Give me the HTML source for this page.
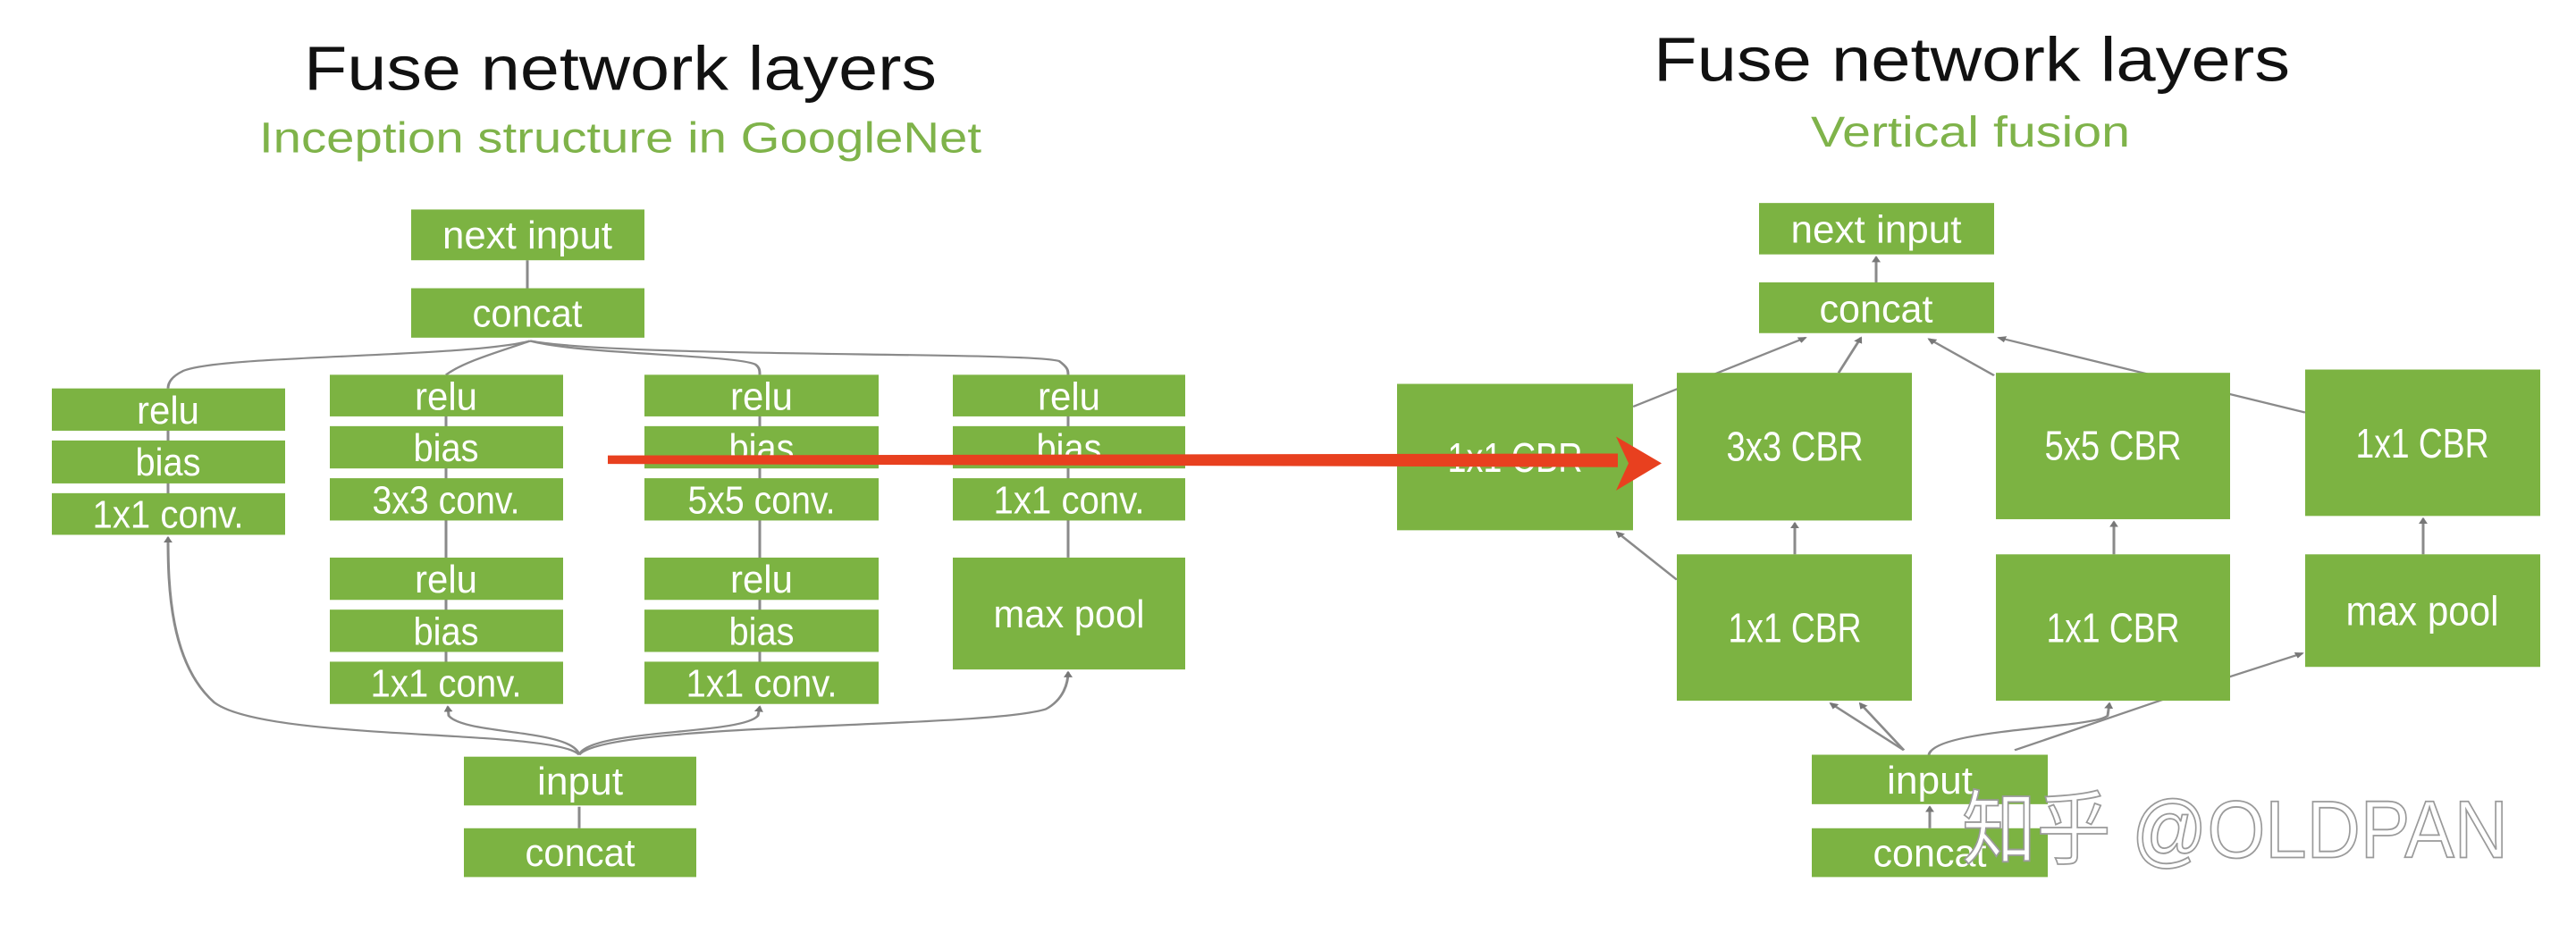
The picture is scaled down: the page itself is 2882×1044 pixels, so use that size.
<!DOCTYPE html>
<html><head><meta charset="utf-8"><style>
html,body{margin:0;padding:0;background:#fff;overflow:hidden;}
svg{display:block;}
.b{fill:#7cb342;}
.t{fill:#fff;font-family:"Liberation Sans",sans-serif;font-size:60px;text-anchor:middle;}
.T{fill:#fff;font-family:"Liberation Sans",sans-serif;font-size:64px;text-anchor:middle;}
.l{stroke:#8a8a8a;stroke-width:3;fill:none;}
</style></head><body>
<svg width="2882" height="1044" viewBox="0 0 2882 1434" preserveAspectRatio="none" xmlns="http://www.w3.org/2000/svg">
<defs><marker id="a" markerWidth="10" markerHeight="10" refX="8" refY="5" orient="auto" markerUnits="userSpaceOnUse"><path d="M0,0 L10,5 L0,10z" fill="#777"/></marker></defs>
<!-- LEFT titles -->
<text x="340" y="138" textLength="708" lengthAdjust="spacingAndGlyphs" font-family="Liberation Sans, sans-serif" font-size="96" fill="#111">Fuse network layers</text>
<text x="290" y="234" textLength="808" lengthAdjust="spacingAndGlyphs" font-family="Liberation Sans, sans-serif" font-size="66" fill="#7fb34a">Inception structure in GoogleNet</text>
<!-- LEFT connectors -->
<g class="l">
<line x1="590" y1="400" x2="590" y2="443"/>
<path d="M593,524 C520,550 250,545 205,570 C190,580 188,590 188,597"/>
<path d="M593,524 C560,540 520,555 499,576"/>
<path d="M593,524 C650,545 820,545 845,560 C850,565 850,570 850,576"/>
<path d="M593,524 C700,550 1150,540 1185,555 C1195,565 1195,570 1195,576"/>
<line x1="188" y1="640" x2="188" y2="822"/>
<line x1="499" y1="620" x2="499" y2="1060"/>
<line x1="850" y1="620" x2="850" y2="1060"/>
<line x1="1195" y1="620" x2="1195" y2="857"/>
<path d="M648,1160 C620,1120 300,1140 240,1080 C190,1020 188,900 188,826" marker-end="url(#a)"/>
<path d="M648,1160 C640,1120 520,1130 502,1100 L501,1086" marker-end="url(#a)"/>
<path d="M648,1160 C660,1120 830,1130 848,1100 L850,1086" marker-end="url(#a)"/>
<path d="M648,1160 C680,1110 1100,1120 1170,1090 C1190,1075 1195,1050 1195,1033" marker-end="url(#a)"/>
<line x1="648" y1="1273" x2="648" y2="1240"/>
</g>
<!-- LEFT boxes -->
<rect class="b" x="460" y="322" width="261" height="78"/><text class="t" x="590" y="382" textLength="190" lengthAdjust="spacingAndGlyphs">next input</text>
<rect class="b" x="460" y="443" width="261" height="76"/><text class="t" x="590" y="502" textLength="123" lengthAdjust="spacingAndGlyphs">concat</text>
<rect class="b" x="58" y="597" width="261" height="65"/><text class="t" x="188" y="651" textLength="70" lengthAdjust="spacingAndGlyphs">relu</text>
<rect class="b" x="58" y="677" width="261" height="66"/><text class="t" x="188" y="731" textLength="73" lengthAdjust="spacingAndGlyphs">bias</text>
<rect class="b" x="58" y="758" width="261" height="64"/><text class="t" x="188" y="811" textLength="169" lengthAdjust="spacingAndGlyphs">1x1 conv.</text>
<rect class="b" x="369" y="576" width="261" height="64"/><text class="t" x="499" y="630" textLength="70" lengthAdjust="spacingAndGlyphs">relu</text>
<rect class="b" x="369" y="655" width="261" height="65"/><text class="t" x="499" y="709" textLength="73" lengthAdjust="spacingAndGlyphs">bias</text>
<rect class="b" x="369" y="735" width="261" height="65"/><text class="t" x="499" y="789" textLength="165" lengthAdjust="spacingAndGlyphs">3x3 conv.</text>
<rect class="b" x="369" y="857" width="261" height="65"/><text class="t" x="499" y="911" textLength="70" lengthAdjust="spacingAndGlyphs">relu</text>
<rect class="b" x="369" y="937" width="261" height="65"/><text class="t" x="499" y="991" textLength="73" lengthAdjust="spacingAndGlyphs">bias</text>
<rect class="b" x="369" y="1017" width="261" height="65"/><text class="t" x="499" y="1071" textLength="169" lengthAdjust="spacingAndGlyphs">1x1 conv.</text>
<rect class="b" x="721" y="576" width="262" height="64"/><text class="t" x="852" y="630" textLength="70" lengthAdjust="spacingAndGlyphs">relu</text>
<rect class="b" x="721" y="655" width="262" height="65"/><text class="t" x="852" y="709" textLength="73" lengthAdjust="spacingAndGlyphs">bias</text>
<rect class="b" x="721" y="735" width="262" height="65"/><text class="t" x="852" y="789" textLength="165" lengthAdjust="spacingAndGlyphs">5x5 conv.</text>
<rect class="b" x="721" y="857" width="262" height="65"/><text class="t" x="852" y="911" textLength="70" lengthAdjust="spacingAndGlyphs">relu</text>
<rect class="b" x="721" y="937" width="262" height="65"/><text class="t" x="852" y="991" textLength="73" lengthAdjust="spacingAndGlyphs">bias</text>
<rect class="b" x="721" y="1017" width="262" height="65"/><text class="t" x="852" y="1071" textLength="169" lengthAdjust="spacingAndGlyphs">1x1 conv.</text>
<rect class="b" x="1066" y="576" width="260" height="64"/><text class="t" x="1196" y="630" textLength="70" lengthAdjust="spacingAndGlyphs">relu</text>
<rect class="b" x="1066" y="655" width="260" height="65"/><text class="t" x="1196" y="709" textLength="73" lengthAdjust="spacingAndGlyphs">bias</text>
<rect class="b" x="1066" y="735" width="260" height="65"/><text class="t" x="1196" y="789" textLength="169" lengthAdjust="spacingAndGlyphs">1x1 conv.</text>
<rect class="b" x="1066" y="857" width="260" height="172"/><text class="t" x="1196" y="964" textLength="169" lengthAdjust="spacingAndGlyphs">max pool</text>
<rect class="b" x="519" y="1163" width="260" height="75"/><text class="t" x="649" y="1221" textLength="96" lengthAdjust="spacingAndGlyphs">input</text>
<rect class="b" x="519" y="1273" width="260" height="75"/><text class="t" x="649" y="1331" textLength="123" lengthAdjust="spacingAndGlyphs">concat</text>
<!-- RIGHT titles -->
<text x="1850" y="124" textLength="712" lengthAdjust="spacingAndGlyphs" font-family="Liberation Sans, sans-serif" font-size="96" fill="#111">Fuse network layers</text>
<text x="2026" y="225" textLength="357" lengthAdjust="spacingAndGlyphs" font-family="Liberation Sans, sans-serif" font-size="66" fill="#7fb34a">Vertical fusion</text>
<!-- RIGHT connectors -->
<g class="l">
<line x1="2099" y1="434" x2="2099" y2="395" marker-end="url(#a)"/>
<line x1="1827" y1="625" x2="2020" y2="519" marker-end="url(#a)"/>
<line x1="2057" y1="573" x2="2082" y2="519" marker-end="url(#a)"/>
<line x1="2231" y1="577" x2="2158" y2="521" marker-end="url(#a)"/>
<line x1="2579" y1="634" x2="2236" y2="519" marker-end="url(#a)"/>
<line x1="2008" y1="852" x2="2008" y2="804" marker-end="url(#a)"/>
<line x1="1876" y1="891" x2="1809" y2="818" marker-end="url(#a)"/>
<line x1="2365" y1="852" x2="2365" y2="802" marker-end="url(#a)"/>
<line x1="2711" y1="852" x2="2711" y2="797" marker-end="url(#a)"/>
<line x1="2130" y1="1153" x2="2048" y2="1081" marker-end="url(#a)"/>
<line x1="2130" y1="1153" x2="2081" y2="1081" marker-end="url(#a)"/>
<path d="M2158,1160 C2165,1120 2340,1120 2358,1100 L2360,1081" marker-end="url(#a)"/>
<path d="M2254,1153 L2495,1040 L2576,1004" marker-end="url(#a)"/>
<line x1="2159" y1="1273" x2="2159" y2="1240" marker-end="url(#a)"/>
</g>
<!-- RIGHT boxes -->
<rect class="b" x="1968" y="312" width="263" height="79"/><text class="t" x="2099" y="373" textLength="191" lengthAdjust="spacingAndGlyphs">next input</text>
<rect class="b" x="1968" y="434" width="263" height="78"/><text class="t" x="2099" y="495" textLength="127" lengthAdjust="spacingAndGlyphs">concat</text>
<rect class="b" x="1563" y="590" width="264" height="225"/><text class="T" x="1695" y="725" textLength="151" lengthAdjust="spacingAndGlyphs">1x1 CBR</text>
<rect class="b" x="1876" y="573" width="263" height="227"/><text class="T" x="2008" y="708" textLength="153" lengthAdjust="spacingAndGlyphs">3x3 CBR</text>
<rect class="b" x="2233" y="573" width="262" height="225"/><text class="T" x="2364" y="707" textLength="153" lengthAdjust="spacingAndGlyphs">5x5 CBR</text>
<rect class="b" x="2579" y="568" width="263" height="225"/><text class="T" x="2710" y="703" textLength="149" lengthAdjust="spacingAndGlyphs">1x1 CBR</text>
<rect class="b" x="1876" y="852" width="263" height="225"/><text class="T" x="2008" y="987" textLength="149" lengthAdjust="spacingAndGlyphs">1x1 CBR</text>
<rect class="b" x="2233" y="852" width="262" height="225"/><text class="T" x="2364" y="987" textLength="149" lengthAdjust="spacingAndGlyphs">1x1 CBR</text>
<rect class="b" x="2579" y="852" width="263" height="173"/><text class="T" x="2710" y="961" textLength="171" lengthAdjust="spacingAndGlyphs">max pool</text>
<rect class="b" x="2027" y="1160" width="264" height="76"/><text class="t" x="2159" y="1220" textLength="96" lengthAdjust="spacingAndGlyphs">input</text>
<rect class="b" x="2027" y="1273" width="264" height="75"/><text class="t" x="2159" y="1332" textLength="127" lengthAdjust="spacingAndGlyphs">concat</text>
<!-- red arrow -->
<polygon points="680,700 1810,697 1810,718 680,713" fill="#e8401f"/>
<polygon points="1808,671 1859,712 1808,754 1822,712" fill="#e8401f"/>
<!-- watermark -->
<text x="2195" y="1318" textLength="611" lengthAdjust="spacingAndGlyphs" font-family="Liberation Sans, 'Noto Sans CJK SC', sans-serif" font-size="125" fill="#fff" stroke="#9a9a9a" stroke-width="2.5">知乎 @OLDPAN</text>
</svg>
</body></html>
